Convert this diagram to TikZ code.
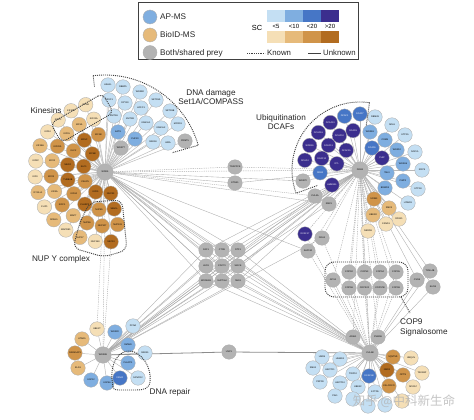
\documentclass[tikz,border=0pt]{standalone}
\usepackage{fontspec}
\setmainfont{Liberation Sans}
\newfontfamily\cjkfont{Noto Sans CJK SC}
\pgfdeclarelayer{bg}
\pgfsetlayers{bg,main}
\definecolor{bA}{HTML}{C4DFF3}
\definecolor{bB}{HTML}{7FAEE0}
\definecolor{bC}{HTML}{4676C6}
\definecolor{bD}{HTML}{3B2E8E}
\definecolor{oA}{HTML}{F5DFB6}
\definecolor{oB}{HTML}{E6BA7A}
\definecolor{oC}{HTML}{D09449}
\definecolor{oD}{HTML}{B26C20}
\definecolor{gN}{HTML}{B3B3B3}
\definecolor{lnC}{HTML}{ABABAB}
\tikzset{
 pn/.style={circle,draw=white!68!black,line width=0.35pt,minimum size=14.5pt,inner sep=0pt,font=\fontsize{2.3}{2.5}\selectfont},
 b1/.style={pn,fill=bA}, b2/.style={pn,fill=bB}, b3/.style={pn,fill=bC,text=white}, b4/.style={pn,fill=bD,text=white},
 o1/.style={pn,fill=oA}, o2/.style={pn,fill=oB}, o3/.style={pn,fill=oC}, o4/.style={pn,fill=oD},
 gy/.style={pn,fill=gN},
 hubn/.style={pn,fill=gN,minimum size=16.5pt},
 ln/.style={draw=lnC,line width=0.35pt},
 kn/.style={draw=lnC,line width=0.45pt,dash pattern=on 1.2pt off 1pt},
 sp/.style={draw=white!72!black,line width=0.45pt},
 grp/.style={draw=black!75,line width=0.9pt,dash pattern=on 1pt off 1pt},
 lab/.style={font=\fontsize{8.2}{9.5}\selectfont,text=black!85,inner sep=1pt},
}
\begin{document}
\begin{tikzpicture}[x=1pt,y=-1pt]
\useasboundingbox (0,0) rectangle (474,420);
\begin{pgfonlayer}{bg}
\fill[white] (0,0) rectangle (474,420);
\end{pgfonlayer}

% ---------- legend
\draw[black!75,line width=0.8pt] (138,2) rectangle (358,59);
\node[pn,fill=bB,minimum size=14pt] (lgA) at (150,17) {};
\node[pn,fill=oB,minimum size=14pt] (lgB) at (150,35) {};
\node[pn,fill=gN,minimum size=14pt] (lgC) at (150,52.5) {};
\node[lab,anchor=west] (ltA) at (159,17) {AP-MS};
\node[lab,anchor=west] (ltB) at (159,35) {BioID-MS};
\node[lab,anchor=west] (ltC) at (159,53) {Both/shared prey};
\node[font=\fontsize{7.4}{8}\selectfont,inner sep=0pt] (ltSC) at (257,28) {SC};
\foreach \c/\x in {bA/267,bB/285,bC/303,bD/321} \fill[\c] (\x,10) rectangle +(18,12);
\foreach \c/\x in {oA/267,oB/285,oC/303,oD/321} \fill[\c] (\x,31) rectangle +(18,12);
\foreach \t/\x [count=\i] in {{<5}/276,{<10}/294,{<20}/312,{>20}/330}
  \node[font=\fontsize{6}{6}\selectfont,inner sep=0pt] (lsc\i) at (\x,26.4) {\t};
\draw[black!75,line width=0.7pt,dash pattern=on 0.9pt off 0.9pt] (247,53) -- (265,53);
\node[lab,anchor=west,font=\fontsize{7.8}{9}\selectfont] (ltK) at (266,53) {Known};
\draw[black!75,line width=0.7pt] (308,53) -- (321,53);
\node[lab,anchor=west,font=\fontsize{7.8}{9}\selectfont] (ltU) at (322,53) {Unknown};

% ---------- hubs
\node[hubn] (tlh) at (105,172) {WDR5};
\node[hubn] (trh) at (360,170) {DDB1};
\node[hubn] (blh) at (103,355) {WDR48};
\node[hubn] (brh) at (370,353) {CUL4B};

% ---------- top-left blue sector
\foreach \n/\x/\y/\s/\t in {
 ta1/108/85/b1/ASH2L, ta2/123/87/b1/RBBP5, ta3/140/92/b1/WDR82, ta4/109/100/b1/CXXC1,
 ta5/125/103/b1/DPY30, ta6/141/108/b1/HCFC1, ta7/156/100/b1/SETD1A, ta8/170/111/b1/SETD1B,
 ta9/114/116/b1/KMT2A, ta10/130/119/b1/KMT2B, ta11/146/123/b1/KANSL1, ta12/161/128/b1/KANSL2,
 ta13/178/124/b1/MCRS1, ta14/118/132/b2/KAT8, ta15/135/139/b2/PHF20, ta16/153/142/b1/RAD18,
 ta17/168/143/b1/HIRA, tag1/121/148/gy/WDR77, tag2/185/141/gy/PRMT5}
 {\node[\s] (\n) at (\x,\y) {\t};}

% ---------- top-left orange fan
\foreach \a/\s/\t [count=\i] in {125/o4/KIF5B,165/o4/KLC1,205/o3/CKAP5,245/o4/KIF11,285/o4/NUP43}
 {\node[\s] (ra\i) at ({105+22*cos(\a)},{172-22*sin(\a)}) {\t};}
\foreach \a/\s/\t [count=\i] in {100/o3/KIF1B,123/o4/KIF5C,146/o3/KLC2,169/o4/MAP4,192/o4/TUBB4B,215/o3/KIF2A,238/o4/CLASP2,261/o3/NUP85,284/o4/SEH1L}
 {\node[\s] (rb\i) at ({105+38*cos(\a)},{172-38*sin(\a)}) {\t};}
\foreach \a/\s/\t [count=\i] in {102/o1/KIF21A,118.5/o2/KIF3A,135/o2/KIF15,151.5/o3/KIF20A,168/o2/KIF22,184.5/o3/KIF23,201/o2/KIF4A,217.5/o3/KIFC1,234/o2/MAP7,250.5/o3/NUP96,267/o3/NUP107,283.5/o3/NUP133}
 {\node[\s] (rc\i) at ({105+54*cos(\a)},{172-54*sin(\a)}) {\t};}
\foreach \a/\s/\t [count=\i] in {106/o1/KIF3B,119/o1/KIF13B,132/o1/KIF1C,145/o1/KIF14,158/o2/KIF18A,171/o1/KIF2C,184/o1/KIF9,197/o2/DYNLL1,210/o1/CLIP1,223/o2/SPAG5,236/o1/MAPRE1,249/o2/NUP37,262/o1/NUP160,275/o4/SEC13}
 {\node[\s] (rd\i) at ({105+70*cos(\a)},{172-70*sin(\a)}) {\t};}

% ---------- top-right cluster
\foreach \a/\r/\s/\t [count=\i] in {90/56/b3/DCAF7,106/56/b3/DCAF1,122/56/b4/DCAF13,138/56/b4/DCAF16,154/56/b4/WDR26,170/56/b4/DCAF4,
 100/40/b4/DCAF8,121/40/b4/DCAF10,142/40/b4/DCAF11,163/40/b4/DCAF12,184/40/b3/DDB2,125/24/b4/DCAF15,165/24/b4/DTL}
 {\node[\s] (tn\i) at ({360+\r*cos(\a)},{170-\r*sin(\a)}) {\t};}
\node[b4] (tn14) at (332,185) {AMBRA1};
\foreach \n/\x/\y/\s/\t in {
 tg1/303/181/gy/WDR70, tg2/315/196/gy/CUL4A, tg3/329/204/gy/RBX1,
 tb1/375/117/b1/RBM28, tb2/392/125/b1/NOL8, tb3/370/132/b2/WDR61, tb4/385/140/b2/CRBN,
 tb5/405/135/b1/UTP15, tb6/372/148/b3/DCAF6, tb7/397/150/b2/WDR12, tb8/415/152/b1/NOC2L,
 tb9/382/158/b4/PHIP, tb10/403/164/b2/WDR46, tb11/422/170/b1/RRP9, tb12/387/173/b2/TBL3,
 tb13/403/181/b2/PWP2, tb14/418/189/b1/UTP18, tb15/385/188/b2/BRWD3, tb16/408/203/b1/LRWD1,
 to1/374/199/o3/SF3B3, to2/389/208/o2/SMC4, to3/373/215/o2/UBE2O, to4/399/219/o1/DDX21,
 to5/386/224/o1/CAND1, to6/368/231/o1/NEDD8}
 {\node[\s] (\n) at (\x,\y) {\t};}

% ---------- middle
\foreach \n/\x/\y/\s/\t in {
 m1/235/167/gy/TRAPPC8, m2/235/183/gy/ETNK1, m3/229/352/gy/USP1,
 g1/206/250/gy/PAF1, g2/222/250/gy/CTR9, g3/238/250/gy/RTF1, g4/206/266/gy/LEO1, g5/222/266/gy/CDC73,
 g6/238/266/gy/SKIC8, g7/206/281/gy/WDR61B, g8/222/281/gy/SUPT6H, g9/238/281/gy/IWS1,
 mr1/305/234/b4/DCAF17, mr2/322/238/gy/DDA1, mr3/308/251/gy/SAP130,
 c0/333/280/gy/GPS1, c1/349/272/gy/COPS2, c2/364.5/272/gy/COPS3, c3/380/272/gy/COPS4, c4/396/272/gy/COPS5,
 c5/349/288/gy/COPS6, c6/364.5/288/gy/COPS7A, c7/380/288/gy/COPS7B, c8/396/288/gy/COPS8,
 cr1/417/280/gy/CSN9, cr2/430/271/gy/TXNL4B, cr3/433/287/gy/ELOB,
 bg1/353/337/gy/ARIH1, bg2/378/337/gy/PSMD6}
 {\node[\s] (\n) at (\x,\y) {\t};}

% ---------- bottom-left
\foreach \n/\x/\y/\s/\t in {
 bl1/97/329/o1/UBE2T, bl2/82/339/o2/ATAD5, bl3/75/353/o3/RAD51AP1, bl4/78/368/o2/ELG1,
 bl5/91/380/b2/USP12, bl6/107/383/b2/USP46, bl7/120/378/b3/FANCI, bl8/138/378/b1/FANCD2,
 bl9/128/363/b2/PHLPP1, bl10/128/345/b2/DMWD, bl11/145/353/b1/RAD51, bl12/133/326/b1/PCNA, bl13/115/332/b2/WDR20}
 {\node[\s] (\n) at (\x,\y) {\t};}

% ---------- bottom-right
\foreach \n/\x/\y/\s/\t in {
 bb1/322/357/b1/UBR5, bb2/340/359/b1/HUWE1, bb3/313/368/b1/SMU1, bb4/330/370/b1/HECTD1,
 bb5/353/374/b1/TRIP12, bb6/369/376/b3/DCAF1B, bb7/320/382/b1/PRPF8, bb8/340/383/b1/HECTD4,
 bb9/358/387/b1/UBE3C, bb10/375/392/b1/KCTD5, bb11/335/396/b1/PIH1, bb12/353/399/b1/{},
 bb13/368/406/b1/{}, bb14/385/405/b1/{},
 bo1/393/357/o3/SQSTM1, bo2/411/358/o1/UBQLN, bo3/387/370/o4/NBR1, bo4/403/375/o3/OPTN,
 bo5/422/373/o1/TAX1BP, bo6/389/386/o3/CALCOCO, bo7/413/387/o1/NCOA7, bo8/402/401/o1/{}}
 {\node[\s] (\n) at (\x,\y) {\t};}

% ---------- group outlines
\node[grp,rounded corners=5pt,minimum width=60pt,minimum height=22pt,rotate=30] (kinbox) at (82,118) {};
\draw[grp] plot[domain=97:16,samples=50] ({105+97*cos(\x)},{172-97*sin(\x)}) -- ({105+70*cos(16)},{172-70*sin(16)});
\draw[grp] ({105+97*cos(97)},{172-97*sin(97)}) -- ({105+86*cos(97)},{172-86*sin(97)});
\draw[grp,rounded corners=7pt] (90,202) -- (122,200) -- (127,250) -- (104,257) -- (73,248) -- (80,222) -- cycle;
\draw[grp] ({360+45*cos(82)},{170-45*sin(82)}) -- plot[domain=82:200,samples=50] ({360+68*cos(\x)},{170-68*sin(\x)}) -- ({360+45*cos(200)},{170-45*sin(200)});
\draw[grp,rounded corners=9pt] (325,262) rectangle (408,297);
\draw[grp] (401,297) -- (410,313);
\draw[grp] (113,387) .. controls (108,362) and (120,350) .. (130,351) .. controls (142,352) and (152,368) .. (150,382) .. controls (149,389) and (143,390) .. (136,390) -- (120,390) .. controls (114,390) and (113,389) .. (113,387);

% ---------- labels
\node[lab] (lKin) at (46,111) {Kinesins};
\node[lab,align=center] (lDNA) at (211,97) {DNA damage\\Set1A/COMPASS};
\node[lab,align=center] (lUb) at (281,122) {Ubiquitination\\DCAFs};
\node[lab] (lNup) at (61,259) {NUP Y complex};
\node[lab] (lRep) at (170,392) {DNA repair};
\node[lab,align=left,anchor=north west] (lCop) at (399,318) {COP9\\Signalosome};
\node[font=\cjkfont\fontsize{12.5}{13}\selectfont,text=black!30,opacity=0.75] (wm) at (404,401) {知乎 @中科新生命};

% ---------- edges
\begin{pgfonlayer}{bg}
\foreach \n in {ta1,ta2,ta3,ta4,ta5,ta6,ta7,ta8,ta9,ta10,ta11,ta12,ta13,ta14,ta15,ta16,ta17,tag1,tag2,
 ra1,ra2,ra3,ra4,ra5,rb1,rb2,rb3,rb4,rb5,rb6,rb7,rb8,rb9,
 rc1,rc2,rc3,rc4,rc5,rc6,rc7,rc8,rc9,rc10,rc11,rc12,
 rd1,rd2,rd3,rd4,rd5,rd6,rd7,rd8,rd9,rd10,rd11,rd12,rd13,rd14}
 \draw[sp] (tlh) -- (\n);
\foreach \n in {tn1,tn2,tn3,tn4,tn5,tn6,tn7,tn8,tn9,tn10,tn11,tn12,tn13,tn14,tg1,tg2,tg3,
 tb1,tb2,tb3,tb4,tb5,tb6,tb7,tb8,tb9,tb10,tb11,tb12,tb13,tb14,tb15,tb16,to1,to2,to3,to4,to5,to6}
 \draw[sp] (trh) -- (\n);
\foreach \n in {bl1,bl2,bl3,bl4,bl5,bl6,bl7,bl8,bl9,bl10,bl11,bl12,bl13}
 \draw[sp] (blh) -- (\n);
\foreach \n in {bb1,bb2,bb3,bb4,bb5,bb6,bb7,bb8,bb9,bb10,bb11,bb12,bb13,bb14,bo1,bo2,bo3,bo4,bo5,bo6,bo7,bo8,bg1,bg2}
 \draw[sp] (brh) -- (\n);
\foreach \g in {g1,g2,g3,g4,g5,g6,g7,g8,g9} {
 \draw[ln] (tlh) -- (\g) -- (brh);
 \draw[ln] (blh) -- (\g) -- (trh);}
\draw[kn] (tlh) -- (m1) -- (trh);
\draw[ln] (tlh) -- (m2) -- (trh);
\draw[kn] (tlh) -- (trh);
\draw[ln] (tlh) -- (tg1);
\draw[kn] (tlh) -- (tg2);
\draw[ln] (tlh) -- (tg3);
\draw[ln] (tlh) -- (mr3);
\draw[kn] (tlh) -- (blh);
\draw[kn] (rd14) -- (blh);
\draw[kn] (rc11) -- (bl1);
\draw[ln] (tlh) -- (brh);
\draw[ln] (blh) -- (trh);
\draw[ln] (blh) -- (tg3);
\draw[ln] (blh) -- (tg2);
\draw[ln] (blh) -- (mr2);
\draw[draw=black!45,line width=0.8pt] (blh) -- (m3) -- (brh);
\draw[ln] (trh) -- (brh);
\foreach \c in {c0,c1,c2,c3,c4,c5,c6,c7,c8} \draw[kn] (trh) -- (\c) -- (brh);
\foreach \c in {cr1,cr2,cr3} \draw[ln] (trh) -- (\c) -- (brh);
\foreach \c in {mr1,mr2,mr3} \draw[kn] (trh) -- (\c) -- (brh);
\draw[kn] (trh) -- (bg1);
\draw[kn] (trh) -- (bg2);
\end{pgfonlayer}
\end{tikzpicture}
\end{document}
